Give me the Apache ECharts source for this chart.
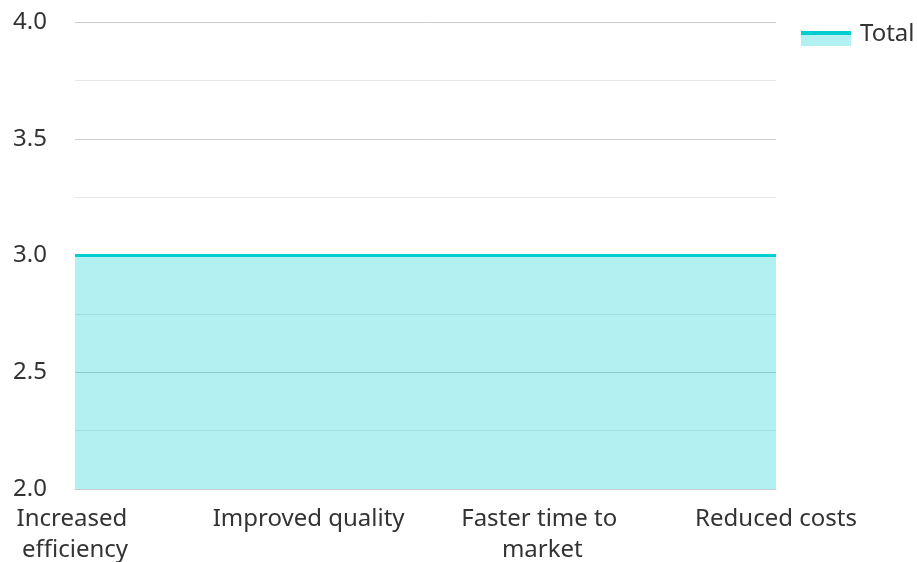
<!DOCTYPE html>
<html lang="en">
<head>
	<meta charset="UTF-8">
	<title>Total</title>
	<script src="https://cdn.jsdelivr.net/npm/echarts@6/dist/echarts.min.js"></script>
	<style>
		html, body { margin: 0; padding: 0; background: #fff; }
		#chart { width: 917px; height: 562px; }
	</style>
</head>
<body>
	<div id="chart"></div>
	<script>
		const categories = ['Increased efficiency', 'Improved quality', 'Faster time to market', 'Reduced costs'];
		const totalValues = [3, 3, 3, 3];
		const seriesName = 'Total';

		const font = 'Noto Sans';
		const teal = '#00ced1';

		let chart = echarts.init(document.getElementById('chart'));
		chart.setOption({
			animation: false,
			textStyle: { fontFamily: font },
			grid: { left: 75, right: 141, top: 22, bottom: 73, containLabel: false, outerBoundsMode: 'none' },
			xAxis: {
				type: 'category',
				data: categories,
				boundaryGap: false,
				axisLine: { lineStyle: { color: '#cccccc', width: 1 } },
				axisTick: { show: false },
				axisLabel: {
					color: '#333',
					fontSize: 24,
					fontFamily: font,
					lineHeight: 31,
					margin: 15,
					width: 205,
					overflow: 'break',
					interval: 0
				}
			},
			yAxis: {
				type: 'value',
				min: 2,
				max: 4,
				interval: 0.5,
				axisLine: { show: false },
				axisTick: { show: false },
				axisLabel: {
					color: '#333',
					fontSize: 24,
					fontFamily: font,
					margin: 28,
					formatter: v => v.toFixed(1)
				},
				splitLine: { lineStyle: { color: '#cccccc', width: 1 } },
				minorTick: { show: false, splitNumber: 2 },
				minorSplitLine: { show: true, lineStyle: { color: '#e6e6e6', width: 1 } }
			},
			series: [{
				name: seriesName,
				type: 'line',
				data: totalValues,
				showSymbol: false,
				lineStyle: { color: teal, width: 3 },
				itemStyle: { color: teal },
				areaStyle: { color: teal, opacity: 0.3 }
			}],
			graphic: [
				{ type: 'rect', shape: { x: 801, y: 33, width: 50, height: 13 }, style: { fill: teal, opacity: 0.3 } },
				{ type: 'rect', shape: { x: 801, y: 31, width: 50, height: 4 }, style: { fill: teal } },
				{ type: 'text', x: 860, y: 34, style: { text: seriesName, fill: '#333', font: '24px "Noto Sans"', verticalAlign: 'middle' } }
			]
		});
	</script>
</body>
</html>
